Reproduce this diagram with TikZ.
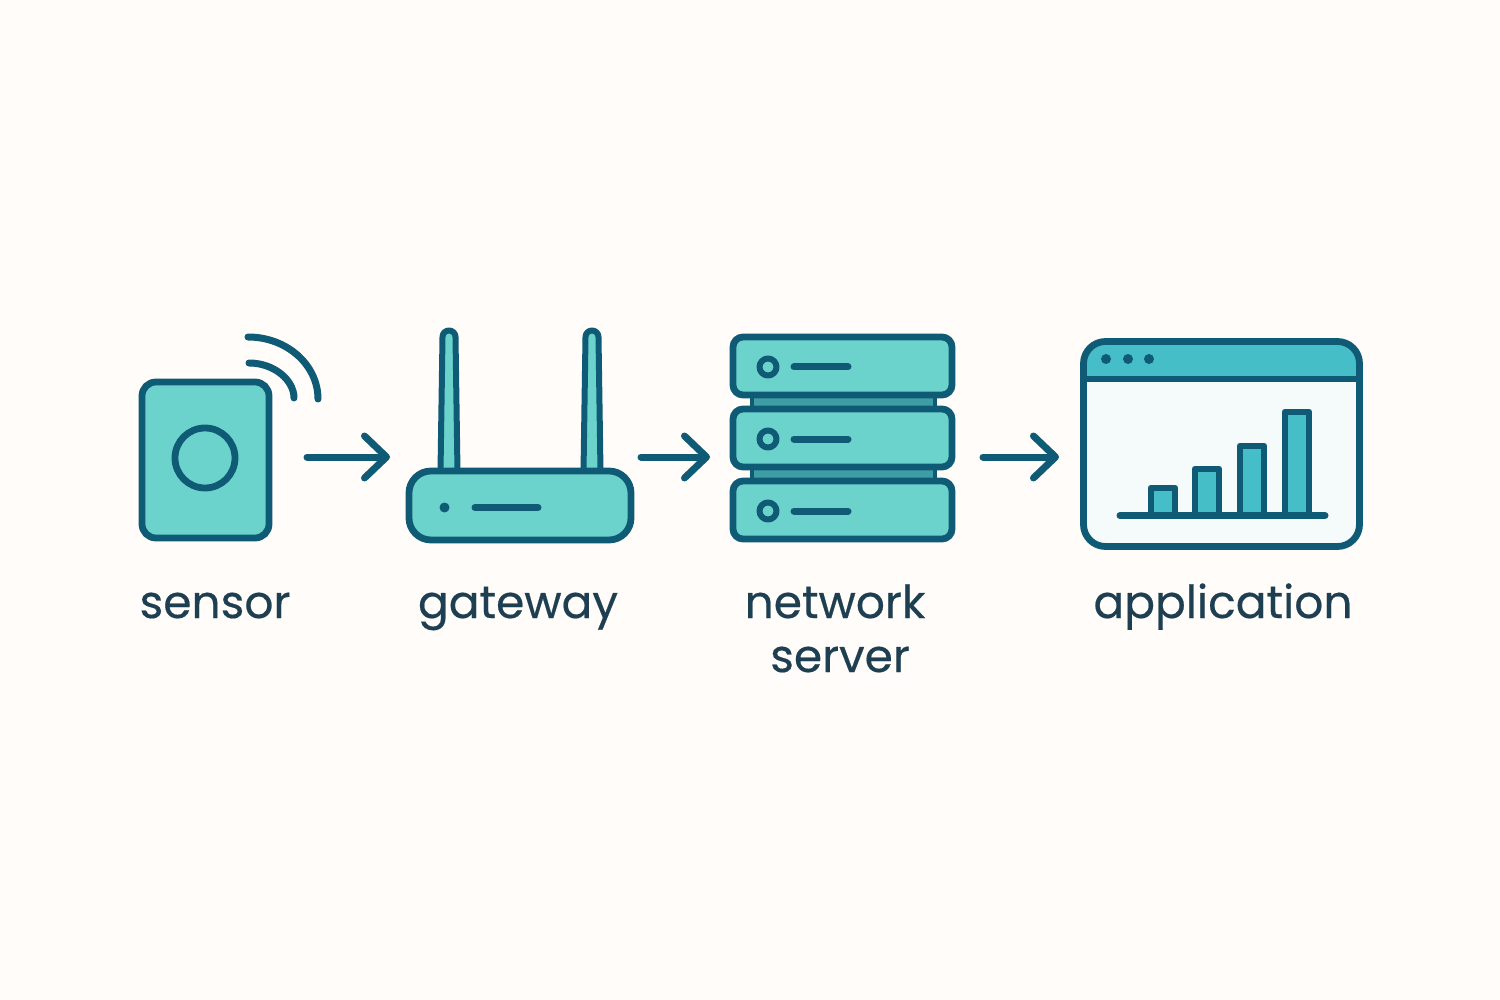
\documentclass[tikz,border=0pt]{standalone}
\usepackage{fontspec}
\setmainfont[FakeBold=0.4]{Poppins}
\usetikzlibrary{arrows.meta}
\definecolor{paper}{HTML}{FFFCF9}
\definecolor{iconline}{HTML}{0F5A75}
\definecolor{iconfill}{HTML}{6CD3CC}
\definecolor{barfill}{HTML}{45BEC8}
\definecolor{gapfill}{HTML}{3F9DA5}
\definecolor{winfill}{HTML}{F5FBFA}
\definecolor{labeltext}{HTML}{1E3F52}

\begin{document}
\begin{tikzpicture}[x=1pt, y=-1pt]
    % Define styles
    \tikzset{
        outline/.style={draw=iconline, line width=6.8pt, line join=round},
        body/.style={outline, fill=iconfill, inner sep=0pt, rounded corners=#1},
        stroke/.style={iconline, line width=7pt, line cap=round},
        flow/.style={stroke, -{Straight Barb[length=22pt, width=42pt, round]}},
        label/.style={text=labeltext, font=\fontsize{45.5}{54}\selectfont, anchor=base, inner sep=0pt}
    }

    % Background
    \fill[paper] (0,0) rectangle (1500,1000);

    % Draw sensor
    \node[body=14pt, minimum width=127pt, minimum height=156pt] (sensor) at (205.5,460) {};
    \node[outline, fill=iconfill, circle, inner sep=0pt, minimum size=60pt] (lens) at (205,458) {};
    \draw[stroke] (248,337) .. controls (287,337) and (318,365) .. (318,399);
    \draw[stroke] (249,363) .. controls (274,363) and (294,380) .. (294,398);

    % Draw gateway
    \foreach \x in {449,592} {
        \draw[outline, fill=iconfill, line width=6pt] (\x-8.5,472) -- (\x-6.5,337)
            arc[start angle=180, end angle=360, x radius=6.5pt, y radius=-6.5pt]
            -- (\x+8.5,472) -- cycle;
    }
    \node[body=22pt, minimum width=222pt, minimum height=69pt] (gateway) at (520,505.5) {};
    \fill[iconline] (444.5,507.5) circle[radius=5pt];
    \draw[stroke] (475,507.5) -- (538,507.5);

    % Draw network server
    \foreach \y in {395,467} {
        \draw[outline, fill=gapfill, line width=4pt] (752,\y) rectangle (935,\y+14);
    }
    \foreach \y/\n in {366/serverone, 438/servertwo, 510/serverthree} {
        \node[body=10pt, minimum width=219pt, minimum height=58pt] (\n) at (842.5,\y) {};
        \draw[outline, line width=6pt] (768,\y+1) circle[radius=8.5pt];
        \draw[stroke] (794,\y+1) -- (848,\y+1);
    }

    % Draw application window
    \node[body=22pt, fill=winfill, minimum width=276pt, minimum height=205pt, path picture={
        \fill[barfill, sharp corners] (path picture bounding box.north west) rectangle
            ([yshift=-38pt]path picture bounding box.north east);
    }] (application) at (1221.5,444) {};
    \draw[outline] (1083,379) -- (1360,379);
    \foreach \x in {1106,1128,1149} {
        \fill[iconline] (\x,359) circle[radius=5pt];
    }
    \foreach \x/\ytop in {1151/488, 1195/469, 1240/446, 1285/412} {
        \draw[outline, fill=barfill] (\x,515) -- (\x,\ytop) -- (\x+24,\ytop) -- (\x+24,515);
    }
    \draw[stroke] (1120,515.5) -- (1325,515.5);

    % Draw flow arrows
    \coordinate (sensorout) at (307,457);
    \coordinate (gatewayin) at (390,457);
    \coordinate (gatewayout) at (641,457);
    \coordinate (serverin) at (710,457);
    \coordinate (serverout) at (983,457);
    \coordinate (applicationin) at (1059,457);
    \draw[flow] (sensorout) -- (gatewayin);
    \draw[flow] (gatewayout) -- (serverin);
    \draw[flow] (serverout) -- (applicationin);

    % Add labels
    \node[label] (sensorlabel) at (215,618) {sensor};
    \node[label] (gatewaylabel) at (518,618) {gateway};
    \node[label] (networklabel) at (835,618) {network};
    \node[label] (serverlabel) at (840,672) {server};
    \node[label] (applicationlabel) at (1223,618) {application};
\end{tikzpicture}
\end{document}
